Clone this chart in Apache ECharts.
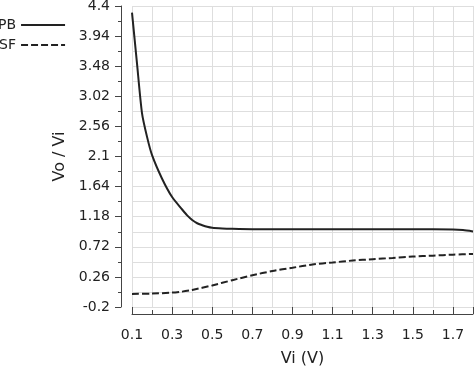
<!DOCTYPE html>
<html>
<head>
<meta charset="utf-8">
<script src="https://cdn.jsdelivr.net/npm/echarts@6/dist/echarts.min.js"></script>
<style>
  html, body { margin: 0; padding: 0; background: #fff; }
  #chart { width: 474px; height: 366px; }
</style>
</head>
<body>
<div id="chart"></div>
<script>
// data
var pbX = [0.1, 0.125, 0.15, 0.175, 0.2, 0.25, 0.3, 0.35, 0.375, 0.4, 0.425, 0.45, 0.475, 0.5, 0.55, 0.6, 0.7, 0.8, 0.9, 1.0, 1.1, 1.2, 1.3, 1.4, 1.5, 1.6, 1.7, 1.75, 1.8];
var pbY = [4.30, 3.52, 2.76, 2.40, 2.12, 1.76, 1.48, 1.29, 1.20, 1.13, 1.08, 1.05, 1.025, 1.01, 1.0, 0.995, 0.99, 0.99, 0.99, 0.99, 0.99, 0.99, 0.99, 0.99, 0.99, 0.99, 0.985, 0.975, 0.955];
var sfX = [0.1, 0.2, 0.3, 0.35, 0.4, 0.5, 0.6, 0.7, 0.8, 0.9, 1.0, 1.1, 1.2, 1.3, 1.4, 1.5, 1.6, 1.7, 1.8];
var sfY = [0.0, 0.005, 0.02, 0.035, 0.06, 0.13, 0.21, 0.285, 0.35, 0.40, 0.45, 0.48, 0.51, 0.53, 0.55, 0.57, 0.585, 0.60, 0.61];

// axis ranges (ticks start at xMin / yMin)
var xMin = 0.1, xMax = 1.8, xStep = 0.2;
var yMin = -0.2, yMax = 4.4, yStep = 0.46;

// echarts counts ticks from 0, so the axes are shifted by their min
function pairs(xs, ys) {
    var res = [];
    for (var i = 0; i < xs.length; i++) {
        res.push([xs[i] - xMin, ys[i] - yMin]);
    }
    return res;
}
function num(v) {
    return String(parseFloat(v.toFixed(2)));
}

var gridColor = '#dedede';
var inkColor = '#222';

var myChart = echarts.init(document.getElementById('chart'));
var option = {
    animation: false,
    textStyle: { fontFamily: 'DejaVu Sans' },
    grid: { left: 132, right: 1, top: 6, bottom: 59, outerBoundsMode: 'none' },
    legend: {
        orient: 'vertical',
        left: -2,
        top: 18,
        padding: 0,
        align: 'right',
        itemWidth: 44,
        itemHeight: 14,
        itemGap: 6,
        itemStyle: { opacity: 0 },
        textStyle: { fontSize: 14, color: inkColor },
        data: ['PB', 'SF']
    },
    xAxis: {
        type: 'value',
        min: 0,
        max: xMax - xMin,
        interval: xStep,
        offset: 7,
        name: 'Vi (V)',
        nameLocation: 'middle',
        nameGap: 37,
        nameTextStyle: { fontSize: 16, color: inkColor },
        axisLine: { onZero: false, lineStyle: { color: '#444', width: 1 } },
        axisTick: { inside: true, length: 7, lineStyle: { color: '#444' } },
        minorTick: { show: true, splitNumber: 2, length: 4, lineStyle: { color: '#444' } },
        axisLabel: {
            fontSize: 14,
            color: inkColor,
            margin: 14,
            showMaxLabel: false,
            formatter: function (v) { return num(v + xMin); }
        },
        splitLine: { show: true, lineStyle: { color: gridColor } },
        minorSplitLine: { show: true, lineStyle: { color: gridColor } }
    },
    yAxis: {
        type: 'value',
        min: 0,
        max: yMax - yMin,
        interval: yStep,
        offset: 11,
        name: 'Vo / Vi',
        nameLocation: 'middle',
        nameGap: 50,
        nameTextStyle: { fontSize: 16, color: inkColor },
        axisLine: { show: true, onZero: false, lineStyle: { color: '#444', width: 1 } },
        axisTick: { show: true, length: 6, lineStyle: { color: '#444' } },
        minorTick: { show: true, splitNumber: 2, length: 3, lineStyle: { color: '#444' } },
        axisLabel: {
            fontSize: 14,
            color: inkColor,
            margin: 11,
            formatter: function (v) { return num(v + yMin); }
        },
        splitLine: { show: true, lineStyle: { color: gridColor } },
        minorSplitLine: { show: true, lineStyle: { color: gridColor } }
    },
    series: [
        {
            name: 'PB',
            type: 'line',
            symbol: 'none',
            smooth: 0.25,
            color: inkColor,
            lineStyle: { color: inkColor, width: 2 },
            data: pairs(pbX, pbY)
        },
        {
            name: 'SF',
            type: 'line',
            symbol: 'none',
            smooth: 0.25,
            color: inkColor,
            lineStyle: { color: inkColor, width: 2, type: [7, 3] },
            data: pairs(sfX, sfY)
        }
    ]
};
myChart.setOption(option);
</script>
</body>
</html>
